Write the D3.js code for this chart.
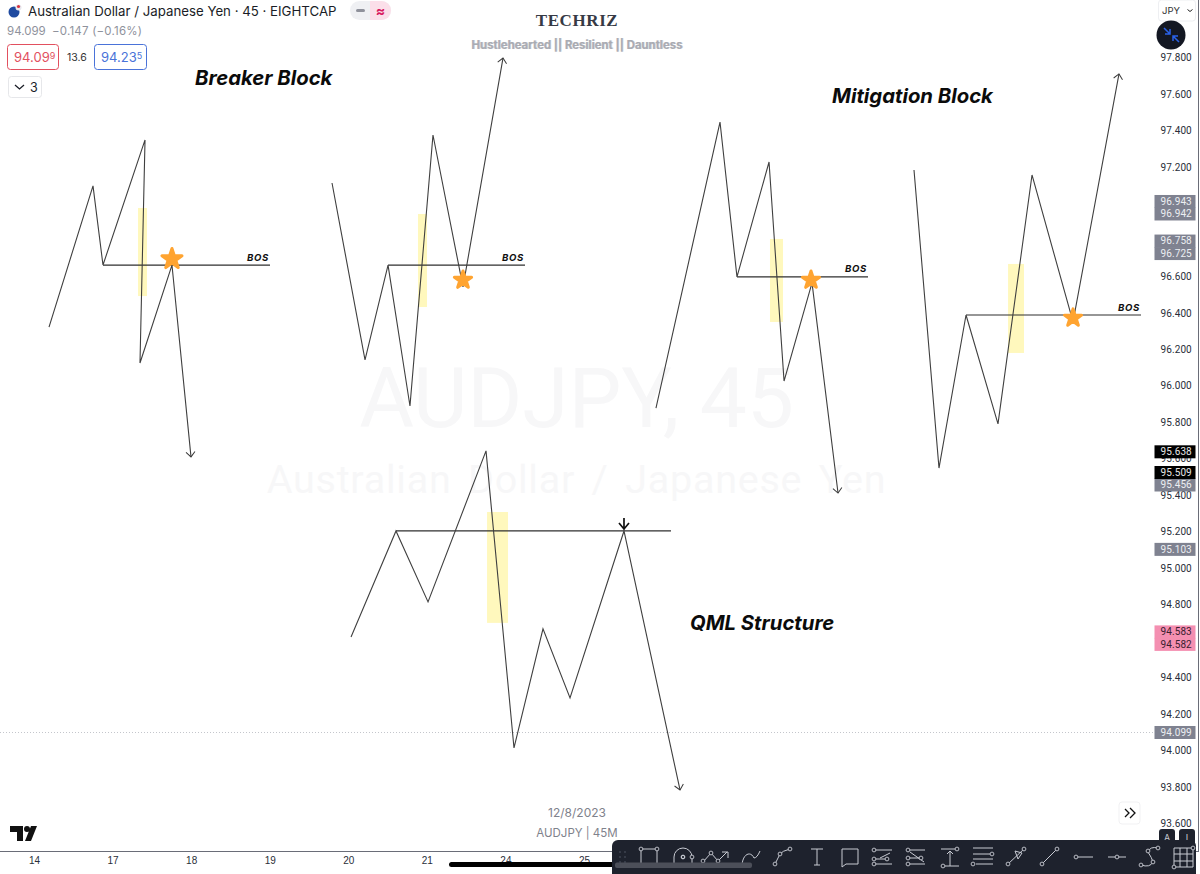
<!DOCTYPE html>
<html>
<head>
<meta charset="utf-8">
<script src="https://cdnjs.cloudflare.com/ajax/libs/d3/7.8.5/d3.min.js"></script>
<style>
html, body { margin: 0; padding: 0; background: #fff; }
svg { display: block; font-family: Inter, "Noto Sans", sans-serif; }
</style>
</head>
<body>
<div id="chart"></div>
<script>
// time axis
const dayLabels = ['14', '17', '18', '19', '20', '21', '24', '25'];
const dayIndex = [0, 1, 2, 3, 4, 5, 6, 7];

// price axis (97.0, 96.8 and 94.6 sit behind the tags in the picture)
const priceTicks = [97.8, 97.6, 97.4, 97.2, 96.6, 96.4, 96.2, 96.0, 95.8, 95.6, 95.4, 95.2, 95.0, 94.8, 94.4, 94.2, 94.0, 93.8, 93.6];
const grayPrices = [96.943, 96.942, 96.758, 96.725, 95.456, 95.103];
const blackPrices = [95.638, 95.509];
const pinkPrices = [94.583, 94.582];
const lastPrice = 94.099;

// sketched structures, x in day slots, y in price
const breaker1Days = [0.191, 0.751, 0.878, 1.413, 1.349, 1.756, 1.998];
const breaker1Prices = [96.322, 97.096, 96.662, 97.348, 96.125, 96.662, 95.610];
const breaker2Days = [3.793, 4.213, 4.506, 4.785, 5.078, 5.460, 5.969];
const breaker2Prices = [97.112, 96.142, 96.662, 95.889, 97.375, 96.542, 97.797];
const mitigation1Days = [7.916, 8.731, 8.947, 9.355, 9.546, 9.902, 10.233];
const mitigation1Prices = [95.878, 97.446, 96.597, 97.227, 96.026, 96.564, 95.412];
const mitigation2Days = [11.200, 11.518, 11.862, 12.269, 12.702, 13.224, 13.809];
const mitigation2Prices = [97.183, 95.549, 96.388, 95.791, 97.156, 96.350, 97.710];
const qmlDays = [4.035, 4.607, 5.015, 5.753, 6.109, 6.478, 6.822, 7.509, 8.222];
const qmlPrices = [94.623, 95.204, 94.815, 95.643, 94.014, 94.667, 94.289, 95.204, 93.784];

// horizontal levels: start day, end day, price
const levelStart = [0.878, 4.506, 8.947, 11.862, 4.607];
const levelEnd = [3.004, 6.249, 10.615, 14.089, 8.107];
const levelPrice = [96.662, 96.662, 96.597, 96.388, 95.204];

// yellow blocks
const blockDay0 = [1.324, 4.887, 9.367, 12.397, 5.766];
const blockDay1 = [1.438, 5.002, 9.533, 12.600, 6.033];
const blockTop = [96.975, 96.942, 96.805, 96.668, 95.308];
const blockBottom = [96.492, 96.432, 96.350, 96.180, 94.700];

// stars
const starDays = [1.756, 5.460, 9.889, 13.224];
const starPrices = [96.695, 96.580, 96.580, 96.372];

const width = 1200;
const height = 874;

const x = d3.scaleLinear().domain([0, 7]).range([34, 584]);
const y = d3.scaleLinear().domain([97.8, 93.6]).range([57.5, 823.5]);

const svg = d3.select('#chart').append('svg')
    .attr('width', width)
    .attr('height', height);

svg.append('rect').attr('width', width).attr('height', height).attr('fill', '#fff');

const defs = svg.append('defs');
defs.append('marker')
    .attr('id', 'arrow')
    .attr('viewBox', '-10 -6 12 12')
    .attr('markerUnits', 'userSpaceOnUse')
    .attr('markerWidth', 12)
    .attr('markerHeight', 12)
    .attr('orient', 'auto')
  .append('path')
    .attr('d', 'M-5,-4.5L0,0L-5,4.5')
    .attr('fill', 'none')
    .attr('stroke', '#3a3a3a')
    .attr('stroke-width', 1);

// watermark
svg.append('text')
    .attr('x', 576.5).attr('y', 427)
    .attr('text-anchor', 'middle')
    .attr('font-family', 'Roboto')
    .attr('font-size', 84)
    .attr('letter-spacing', -0.2)
    .attr('fill', '#f7f7f8')
    .text('AUDJPY, 45');
svg.append('text')
    .attr('x', 576.5).attr('y', 493)
    .attr('text-anchor', 'middle')
    .attr('font-family', 'Roboto')
    .attr('font-size', 39.5)
    .attr('word-spacing', 6)
    .attr('letter-spacing', 0.75)
    .attr('fill', '#f7f7f8')
    .text('Australian Dollar / Japanese Yen');

// last price line
svg.append('line')
    .attr('x1', 0).attr('x2', 1156)
    .attr('y1', y(lastPrice)).attr('y2', y(lastPrice))
    .attr('stroke', '#c4c6cc')
    .attr('stroke-dasharray', '1 2');

// blocks
svg.append('g').selectAll('rect')
    .data(blockDay0)
    .join('rect')
    .attr('x', d => x(d))
    .attr('y', (d, i) => y(blockTop[i]))
    .attr('width', (d, i) => x(blockDay1[i]) - x(d))
    .attr('height', (d, i) => y(blockBottom[i]) - y(blockTop[i]))
    .attr('fill', '#fff8bd');

// levels
svg.append('g').selectAll('line')
    .data(levelPrice)
    .join('line')
    .attr('x1', (d, i) => x(levelStart[i]))
    .attr('x2', (d, i) => x(levelEnd[i]))
    .attr('y1', d => y(d))
    .attr('y2', d => y(d))
    .attr('stroke', '#2f2f2f')
    .attr('stroke-width', 1.2);

// structures
const line = d3.line().x(d => x(d[0])).y(d => y(d[1]));
const structures = [
    d3.zip(breaker1Days, breaker1Prices),
    d3.zip(breaker2Days, breaker2Prices),
    d3.zip(mitigation1Days, mitigation1Prices),
    d3.zip(mitigation2Days, mitigation2Prices),
    d3.zip(qmlDays, qmlPrices)
];
svg.append('g').selectAll('path')
    .data(structures)
    .join('path')
    .attr('d', line)
    .attr('fill', 'none')
    .attr('stroke', '#3f3f3f')
    .attr('stroke-width', 1.1)
    .attr('marker-end', 'url(#arrow)');

// stars
svg.append('g').selectAll('path')
    .data(starDays)
    .join('path')
    .attr('transform', (d, i) => `translate(${x(d)},${y(starPrices[i])})`)
    .attr('d', (d, i) => d3.symbol(d3.symbolStar, i === 0 ? 125 : 92)())
    .attr('fill', '#ffa431')
    .attr('stroke', '#ffa431')
    .attr('stroke-width', 3)
    .attr('stroke-linejoin', 'round');

// BOS labels
svg.append('g').selectAll('text')
    .data(levelPrice.slice(0, 4))
    .join('text')
    .attr('x', (d, i) => x(levelEnd[i]) - 12)
    .attr('y', d => y(d) - 4.5)
    .attr('text-anchor', 'middle')
    .attr('font-size', 9.6)
    .attr('font-weight', 700)
    .attr('font-style', 'italic')
    .attr('letter-spacing', 0.7)
    .attr('fill', '#111')
    .text('BOS');

// QML arrow above the level
svg.append('path')
    .attr('d', `M${x(qmlDays[7])},${y(levelPrice[4]) - 13}v11M${x(qmlDays[7]) - 5},${y(levelPrice[4]) - 8}l5,6l5,-6`)
    .attr('fill', 'none')
    .attr('stroke', '#111')
    .attr('stroke-width', 1.7);

// section titles
const titles = ['Breaker Block', 'Mitigation Block', 'QML Structure'];
const titleX = [195, 832, 690];
const titleY = [85, 103, 630];
svg.append('g').selectAll('text')
    .data(titles)
    .join('text')
    .attr('x', (d, i) => titleX[i])
    .attr('y', (d, i) => titleY[i])
    .attr('font-size', 20.3)
    .attr('font-weight', 700)
    .attr('font-style', 'italic')
    .attr('fill', '#0b0b0b')
    .text(d => d);

svg.append('text')
    .attr('x', 577).attr('y', 26)
    .attr('text-anchor', 'middle')
    .attr('font-family', '"Liberation Serif", serif')
    .attr('font-weight', 700)
    .attr('font-size', 17)
    .attr('letter-spacing', 0.6)
    .attr('fill', '#363a45')
    .text('TECHRIZ');
// the tagline is doubled in the picture, the second pass sits just off the first
[['#c4c6cb', 577.6], ['#a3a5ad', 576.8]].forEach(d => {
    svg.append('text')
        .attr('x', d[1]).attr('y', 49)
        .attr('text-anchor', 'middle')
        .attr('font-weight', 700)
        .attr('font-size', 11.4)
        .attr('fill', d[0])
        .attr('opacity', 0.85)
        .text('Hustlehearted || Resilient || Dauntless');
});

// x axis
const xAxis = d3.axisBottom(x)
    .tickValues(dayIndex)
    .tickFormat(i => dayLabels[i])
    .tickSize(0)
    .tickPadding(5);
const xG = svg.append('g').attr('transform', 'translate(0,851.5)').call(xAxis);
xG.select('.domain').remove();
xG.selectAll('text').attr('font-size', 10).attr('font-family', null).attr('fill', '#2a2e39');
svg.append('line').attr('x1', 0).attr('x2', 1199).attr('y1', 851.5).attr('y2', 851.5).attr('stroke', '#6a6d78');

// y axis
const yAxis = d3.axisRight(y)
    .tickValues(priceTicks)
    .tickFormat(d3.format('.3f'))
    .tickSize(0)
    .tickPadding(0);
const yG = svg.append('g').attr('transform', 'translate(1160.5,0)').call(yAxis);
yG.select('.domain').remove();
yG.selectAll('text').attr('font-size', 10).attr('font-family', 'Roboto').attr('letter-spacing', 0.1).attr('fill', '#2a2e39');
svg.append('line').attr('x1', 1198.5).attr('x2', 1198.5).attr('y1', 0).attr('y2', 851).attr('stroke', '#6a6d78');

// price tags, stacked upward when they would overlap
const tags = [
    ...grayPrices.map(p => ({ p: p, bg: '#7f8290', fg: '#eceef2' })),
    ...blackPrices.map(p => ({ p: p, bg: '#000', fg: '#e6e6e6' })),
    ...pinkPrices.map(p => ({ p: p, bg: '#f48fb1', fg: '#3a2030' })),
    { p: lastPrice, bg: '#7f8290', fg: '#eceef2' }
].sort((a, b) => a.p - b.p);
let prevY = Infinity;
tags.forEach(t => {
    t.y = Math.min(y(t.p), prevY - 12.5);
    prevY = t.y;
});
const tagG = svg.append('g').selectAll('g')
    .data(tags)
    .join('g')
    .attr('transform', d => `translate(1154.5,${d.y})`);
tagG.append('rect')
    .attr('y', -6.5)
    .attr('width', 41)
    .attr('height', 13)
    .attr('fill', d => d.bg);
tagG.append('text')
    .attr('x', 6)
    .attr('dy', '0.34em')
    .attr('font-family', 'Roboto')
    .attr('font-size', 10)
    .attr('letter-spacing', 0.1)
    .attr('fill', d => d.fg)
    .text(d => d.p.toFixed(3));

// header
const flag = svg.append('g');
flag.append('circle').attr('cx', 14).attr('cy', 12).attr('r', 5.5).attr('fill', '#1f4aa0');
flag.append('circle').attr('cx', 18.5).attr('cy', 7.5).attr('r', 3).attr('fill', '#e8e8ee');
flag.append('circle').attr('cx', 18.5).attr('cy', 6.5).attr('r', 1.6).attr('fill', '#d8343f');
svg.append('text').attr('x', 28).attr('y', 15.5).attr('font-size', 13.25).attr('fill', '#1a1d26')
    .text('Australian Dollar / Japanese Yen · 45 · EIGHTCAP');
svg.append('rect').attr('x', 350).attr('y', 1).attr('width', 41).attr('height', 19).attr('rx', 9.5).attr('fill', '#eff0f3');
svg.append('path').attr('d', 'M370,1h11.5a9.5,9.5 0 0 1 0,19h-11.5z').attr('fill', '#fbdfe9');
svg.append('rect').attr('x', 356).attr('y', 9).attr('width', 9).attr('height', 3).attr('rx', 1.5).attr('fill', '#8f919b');
svg.append('text').attr('x', 380.5).attr('y', 15.5).attr('text-anchor', 'middle').attr('font-size', 14).attr('font-weight', 700).attr('fill', '#d81b60').text('≈');
svg.append('text').attr('x', 7).attr('y', 35).attr('font-size', 11.5).attr('fill', '#8f929c').text('94.099');
svg.append('text').attr('x', 52).attr('y', 35).attr('font-size', 11.5).attr('letter-spacing', 0.2).attr('fill', '#8f929c').text('−0.147 (−0.16%)');

svg.append('rect').attr('x', 7.5).attr('y', 44.5).attr('width', 51).attr('height', 25).attr('rx', 3).attr('fill', '#fff').attr('stroke', '#e2505f');
svg.append('text').attr('x', 14).attr('y', 62).attr('font-size', 13).attr('fill', '#e2505f')
    .html('94.09<tspan font-size="9" dy="-3">9</tspan>');
svg.append('text').attr('x', 67).attr('y', 61).attr('font-size', 10.5).attr('fill', '#333').text('13.6');
svg.append('rect').attr('x', 94.5).attr('y', 44.5).attr('width', 52).attr('height', 25).attr('rx', 3).attr('fill', '#fff').attr('stroke', '#4a73d9');
svg.append('text').attr('x', 101).attr('y', 62).attr('font-size', 13).attr('fill', '#4a73d9')
    .html('94.23<tspan font-size="9" dy="-3">5</tspan>');
svg.append('rect').attr('x', 8.5).attr('y', 76.5).attr('width', 33).attr('height', 21).attr('rx', 3).attr('fill', '#fff').attr('stroke', '#e6e7ea');
svg.append('path').attr('d', 'M15,85l4.5,4l4.5,-4').attr('fill', 'none').attr('stroke', '#1a1d26').attr('stroke-width', 1.3);
svg.append('text').attr('x', 30).attr('y', 92).attr('font-size', 12.5).attr('fill', '#1a1d26').text('3');

// currency selector and compress button
svg.append('rect').attr('x', 1158.5).attr('y', 0).attr('width', 37).attr('height', 21).attr('rx', 3).attr('fill', '#fff').attr('stroke', '#eeeff2');
svg.append('text').attr('x', 1162).attr('y', 14).attr('font-size', 9.5).attr('fill', '#333').text('JPY');
svg.append('path').attr('d', 'M1187.5,9.5l2.5,2l2.5,-2').attr('fill', 'none').attr('stroke', '#222').attr('stroke-width', 1);
svg.append('circle').attr('cx', 1171).attr('cy', 35).attr('r', 14.5).attr('fill', '#131722');
svg.append('path')
    .attr('d', 'M1164,28l6,6M1170,29v5h-5M1179,42l-6,-6M1173,41v-5h5')
    .attr('fill', 'none').attr('stroke', '#2a62e8').attr('stroke-width', 1.5);

// footer captions
svg.append('text').attr('x', 577).attr('y', 816.5).attr('text-anchor', 'middle').attr('font-size', 12).attr('fill', '#7f828c').text('12/8/2023');
svg.append('text').attr('x', 577).attr('y', 837).attr('text-anchor', 'middle').attr('font-size', 11.5).attr('fill', '#7f828c').text('AUDJPY | 45M');

// TradingView logo
svg.append('path')
    .attr('d', 'M10,826h13v15h-6v-9h-7zM27,826a3,3 0 1 1 0,6a3,3 0 1 1 0,-6M37,826l-6,15h-6l6,-15z')
    .attr('fill', '#111');

// scroll button
svg.append('rect').attr('x', 1119).attr('y', 802).attr('width', 21).attr('height', 22).attr('rx', 3).attr('fill', '#fff')
    .attr('stroke', '#f1f1f3');
svg.append('path').attr('d', 'M1125,809l4,4l-4,4M1130,808l5,5l-5,5').attr('fill', 'none').attr('stroke', '#111').attr('stroke-width', 1.3);

// home bar
svg.append('rect').attr('x', 449).attr('y', 862).attr('width', 175).attr('height', 5).attr('rx', 2.5).attr('fill', '#000');

// A / I buttons
['A', 'I'].forEach((t, i) => {
    const bx = 1159 + i * 20;
    svg.append('rect').attr('x', bx).attr('y', 829).attr('width', 16).attr('height', 20).attr('rx', 3).attr('fill', '#1e222d');
    svg.append('text').attr('x', bx + 8).attr('y', 841).attr('text-anchor', 'middle').attr('font-size', 9).attr('fill', '#c8cbd3').text(t);
});

// drawing toolbar
svg.append('rect').attr('x', 612).attr('y', 840).attr('width', 584).attr('height', 40).attr('rx', 6).attr('fill', '#1e222d');
const iconPaths = [
    'M641,865V849H657V865',
    'M692,857a9,9 0 1 0 -18,0v8M692,857v8',
    'M703,862L711,853L718,861L727,852M722,852H728V858',
    'M742,865c1,-12 9,-14 12,-7q3,0 6,-7',
    'M775,864L780,854Q782,851 790,849',
    'M811,849H823M817,849V865M814,865H820',
    'M842,849H858V864H846L842,867z',
    'M874,850H892M874,859H887M874,864H892M880,858L890,853',
    'M908,850H925M908,858H921M908,864H925M910,852L924,862',
    'M941,849H956M950,866V851M947,854L950,851L953,854M945,866H959',
    'M973,848H993M973,854H990M973,859H993M976,864H993',
    'M1008,864L1024,849M1015,851L1022,853L1018,859z',
    'M1042,864L1057,849',
    'M1078,857H1093',
    'M1108,857H1126',
    'M1141,865Q1150,868 1153,862Q1152,858 1148,852Q1150,846 1158,848',
    'M1174,848H1193V867H1174zM1174,854H1193M1174,861H1193M1180,848V867M1187,848V867'
];
const nodeX = [641, 657, 683, 692, 711, 718, 703, 775, 780, 790, 874, 874, 887, 874, 908, 908, 921, 908, 957, 943, 992, 973, 1008, 1024, 1042, 1057, 1076, 1117, 1141, 1153, 1148, 1158, 1193, 1174];
const nodeY = [849, 849, 857, 857, 853, 861, 861, 864, 854, 849, 850, 859, 859, 864, 850, 858, 858, 864, 849, 866, 854, 864, 864, 849, 864, 849, 857, 857, 865, 862, 851, 848, 848, 867];
svg.append('g').selectAll('path')
    .data(iconPaths)
    .join('path')
    .attr('d', d => d)
    .attr('fill', 'none')
    .attr('stroke', '#c8cbd3')
    .attr('stroke-width', 1);
svg.append('g').selectAll('circle')
    .data(nodeX)
    .join('circle')
    .attr('cx', d => d)
    .attr('cy', (d, i) => nodeY[i])
    .attr('r', 1.9)
    .attr('fill', '#1e222d')
    .attr('stroke', '#c8cbd3')
    .attr('stroke-width', 0.9);
svg.append('circle').attr('cx', 683).attr('cy', 857).attr('r', 1.6).attr('fill', 'none').attr('stroke', '#c8cbd3');
svg.append('g').selectAll('circle.grip')
    .data(d3.range(6))
    .join('circle')
    .attr('cx', i => 620 + (i % 2) * 5)
    .attr('cy', i => 852 + Math.floor(i / 2) * 5)
    .attr('r', 0.8)
    .attr('fill', '#555a66');
// home bar showing through the toolbar blur
svg.append('rect').attr('x', 615).attr('y', 862.5).attr('width', 137).attr('height', 5.5).attr('rx', 2).attr('fill', '#4c4f59');
</script>
</body>
</html>
